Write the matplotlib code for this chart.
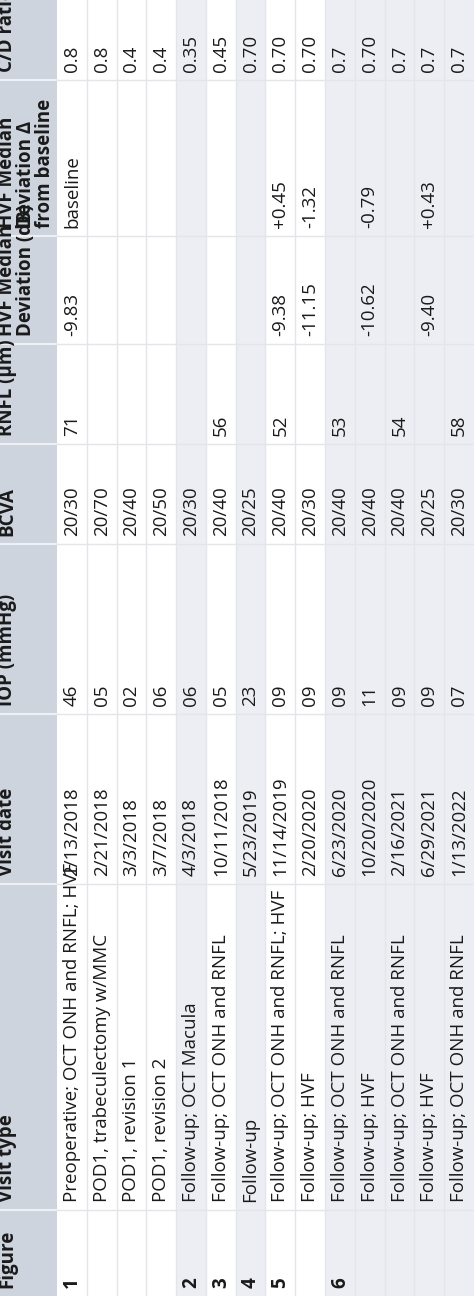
import matplotlib.pyplot as plt
from matplotlib.patches import Rectangle

plt.rcParams['font.family'] = ['Open Sans', 'DejaVu Sans']

headers = ["Figure", "Visit type", "Visit date", "IOP (mmHg)", "BCVA", "RNFL (µm)",
           "HVF Median\nDeviation (dB)", "HVF Median\nDeviation Δ\nfrom baseline", "C/D ratio"]
figure_no = ["1", "", "", "", "2", "3", "4", "5", "", "6", "", "", "", ""]
visit_type = ["Preoperative; OCT ONH and RNFL; HVF", "POD1, trabeculectomy w/MMC",
              "POD1, revision 1", "POD1, revision 2", "Follow-up; OCT Macula",
              "Follow-up; OCT ONH and RNFL", "Follow-up", "Follow-up; OCT ONH and RNFL; HVF",
              "Follow-up; HVF", "Follow-up; OCT ONH and RNFL", "Follow-up; HVF",
              "Follow-up; OCT ONH and RNFL", "Follow-up; HVF", "Follow-up; OCT ONH and RNFL"]
visit_date = ["2/13/2018", "2/21/2018", "3/3/2018", "3/7/2018", "4/3/2018", "10/11/2018",
              "5/23/2019", "11/14/2019", "2/20/2020", "6/23/2020", "10/20/2020",
              "2/16/2021", "6/29/2021", "1/13/2022"]
iop = ["46", "05", "02", "06", "06", "05", "23", "09", "09", "09", "11", "09", "09", "07"]
bcva = ["20/30", "20/70", "20/40", "20/50", "20/30", "20/40", "20/25", "20/40", "20/30",
        "20/40", "20/40", "20/40", "20/25", "20/30"]
rnfl = ["71", "", "", "", "", "56", "", "52", "", "53", "", "54", "", "58"]
hvf_md = ["-9.83", "", "", "", "", "", "", "-9.38", "-11.15", "", "-10.62", "", "-9.40", ""]
hvf_delta = ["baseline", "", "", "", "", "", "", "+0.45", "-1.32", "", "-0.79", "", "+0.43", ""]
cd_ratio = ["0.8", "0.8", "0.4", "0.4", "0.35", "0.45", "0.70", "0.70", "0.70", "0.7",
            "0.70", "0.7", "0.7", "0.7"]
shaded = [0, 0, 0, 0, 1, 0, 1, 0, 0, 1, 1, 1, 1, 1]

columns = [figure_no, visit_type, visit_date, iop, bcva, rnfl, hvf_md, hvf_delta, cd_ratio]
# column edges along the page (image y), from the bottom up
col_edges = [1296, 1210, 884, 714, 544, 444, 344, 236, 80, -40]
head_w = 57
row_w = (474 - head_w) / len(visit_type)
fs = 13.5

fig = plt.figure(figsize=(4.74, 12.96), dpi=100)
ax = fig.add_axes([0, 0, 1, 1])
ax.set_xlim(0, 474)
ax.set_ylim(1296, 0)
ax.axis('off')

ax.add_patch(Rectangle((0, 0), head_w, 1296, color='#cdd4de', lw=0))
for i, s in enumerate(shaded):
    if s:
        ax.add_patch(Rectangle((head_w + i * row_w, 0), row_w, 1296, color='#eceef4', lw=0))
for i in range(1, len(visit_type)):
    ax.plot([head_w + i * row_w] * 2, [0, 1296], color='#e2e5ea', lw=1)
for e in col_edges[1:-1]:
    ax.plot([0, head_w], [e, e], color='#eef0f3', lw=1.5)
    ax.plot([head_w, 474], [e, e], color='#e2e5ea', lw=1)

for j, (h, col) in enumerate(zip(headers, columns)):
    ystart = col_edges[j] - 8
    ax.text(-3, ystart, h, rotation=90, ha='left', va='bottom', fontsize=fs,
            fontweight='bold', color='#1a1a1a', linespacing=0.95)
    for i, v in enumerate(col):
        ax.text(head_w + (i + 0.5) * row_w, ystart, v, rotation=90, ha='center',
                va='bottom', fontsize=fs, color='#1a1a1a',
                fontweight='bold' if j == 0 else 'normal')

fig.savefig('out.png', dpi=100)
